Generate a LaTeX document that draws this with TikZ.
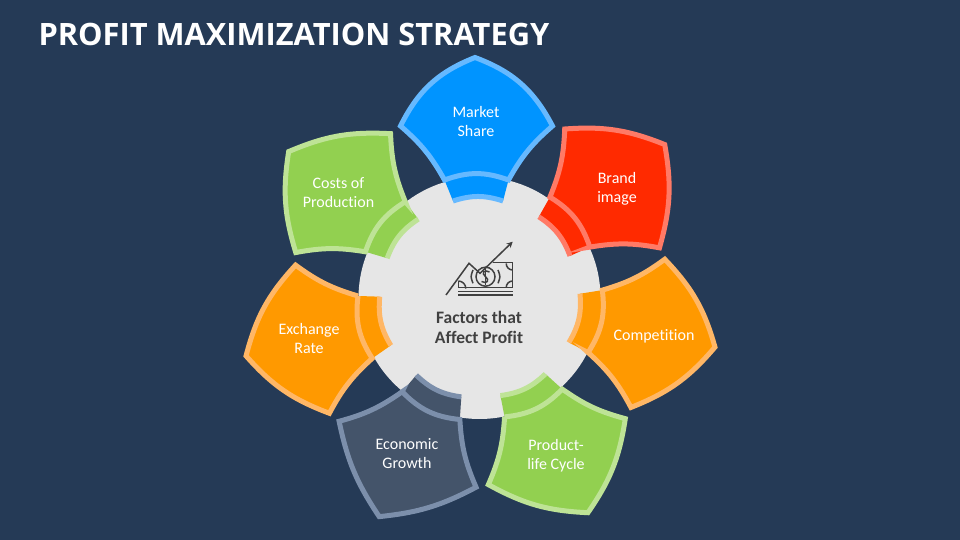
\documentclass[tikz,border=0pt]{standalone}
\usepackage{fontspec}
\setmainfont{Carlito}[Ligatures=NoCommon]
\newfontfamily\titlefont{Open Sans}
\usetikzlibrary{arrows.meta}
\definecolor{slidebg}{RGB}{37, 58, 86}
\definecolor{diskgray}{RGB}{230, 230, 230}
\definecolor{icongray}{RGB}{64, 64, 64}
\definecolor{blueA}{RGB}{0, 148, 255}
\definecolor{blueB}{RGB}{102, 185, 255}
\definecolor{redA}{RGB}{255, 42, 0}
\definecolor{redB}{RGB}{255, 122, 102}
\definecolor{orangeA}{RGB}{255, 153, 0}
\definecolor{orangeB}{RGB}{255, 183, 102}
\definecolor{greenA}{RGB}{146, 208, 80}
\definecolor{greenB}{RGB}{190, 227, 150}
\definecolor{slateA}{RGB}{68, 84, 106}
\definecolor{slateB}{RGB}{124, 143, 171}

\begin{document}
\begin{tikzpicture}[x=1pt, y=1pt]
    \tikzstyle{petaltext} = [align=center, text=white, font=\fontsize{16}{19}\selectfont]
    \tikzstyle{rim} = [line width=5pt]
    \tikzstyle{icon} = [draw=icongray, line width=1.5pt]

    % slide
    \fill[slidebg] (0,0) rectangle (960,540);
    \useasboundingbox (0,0) rectangle (960,540);
    \node[anchor=west, text=white, font=\titlefont\fontsize{30.8}{36}\selectfont\bfseries] (title) at (35,506) {PROFIT MAXIMIZATION STRATEGY};

    % centre disk
    \fill[diskgray] (479.5,242) circle (121);

    % petals
    \foreach \k/\colA/\colB/\bow in {0/blueA/blueB/21, 1/redA/redB/13, 2/orangeA/orangeB/14, 3/greenA/greenB/13, 4/slateA/slateB/11, 5/orangeA/orangeB/14, 6/greenA/greenB/13} {
        \begin{scope}[shift={(479.5,242)}, rotate=-360/7*\k]
            \fill[\colA] (29,118) -- (23.5,97) to[bend right=18] (-26.5,97) -- (-35,118) to[bend right=10] (-79,172)
                to[bend left=\bow] (-4.5,240.5) to[bend left=\bow] (73,172) to[bend right=10] cycle;
            \draw[rim, \colB] (29,118) to[bend right=20] (-35,118) to[bend right=10] (-79,172)
                to[bend left=\bow] (-4.5,240.5) to[bend left=\bow] (73,172) to[bend right=10] cycle;
            \draw[rim, \colB] (23.5,97) to[bend right=18] (-26.5,97);
        \end{scope}
    }

    % labels
    \node[petaltext] (market) at (476,418) {Market\\Share};
    \node[petaltext] (brand) at (617,351) {Brand\\image};
    \node[petaltext] (competition) at (654,204) {Competition};
    \node[petaltext] (product) at (556,84) {Product-\\life Cycle};
    \node[petaltext] (economic) at (407,86) {Economic\\Growth};
    \node[petaltext] (exchange) at (309,201) {Exchange\\Rate};
    \node[petaltext] (costs) at (338.5,347) {Costs of\\Production};
    \node[align=center, text=icongray, font=\fontsize{17.5}{20}\selectfont\bfseries] (factors) at (479,213) {Factors that\\Affect Profit};

    % icon
    \draw[icon, -{Stealth[length=6pt, width=6pt]}] (446,245) -- (469,276.7) -- (480,266.7) -- (512.7,298.3);
    \draw[icon] (492.7,277.3) -- (512.7,277.3) -- (512.7,252.3) -- (458.3,252.3) -- (458.3,259);
    \draw[icon] (458.3,259) arc (90:0:7.5) ;
    \draw[icon] (512.7,270) arc (270:180:6.5);
    \draw[icon] (512.7,259) arc (90:180:6.5);
    \draw[icon] (458.3,248.7) -- (512.7,248.7);
    \draw[icon] (458.3,245) -- (512.7,245);
    \draw[icon] (485.5,263.3) circle (9.5);
    \draw[icon] (473,270) .. controls (470.5,263.3) .. (473,256.7);
    \draw[icon] (498,270) .. controls (500.5,263.3) .. (498,256.7);
    \draw[icon] (489.5,268) .. controls (484,271) and (481,267) .. (485.5,263.3) .. controls (490,260) and (487,255.5) .. (481.5,258.5);
    \draw[icon] (485.5,272) -- (485.5,255);
\end{tikzpicture}
\end{document}
